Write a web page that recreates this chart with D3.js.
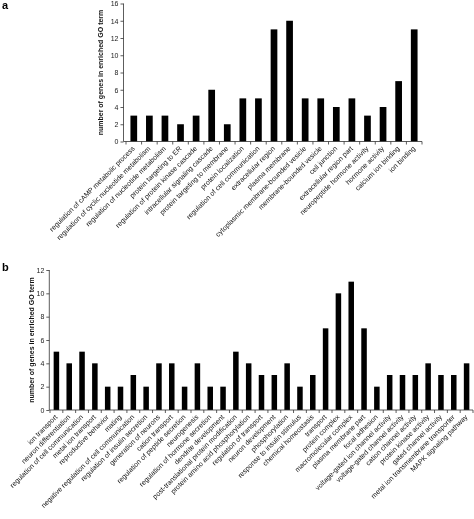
<!DOCTYPE html>
<html><head><meta charset="utf-8">
<script src="https://cdn.jsdelivr.net/npm/d3@7/dist/d3.min.js"></script>
<style>body{margin:0;background:#fff}svg{display:block;will-change:transform}text{font-family:"Liberation Sans",Arial,sans-serif}</style>
</head><body>
<script>
const catsA = ["regulation of cAMP metabolic process","regulation of cyclic nucleotide metabolism","regulation of nucleotide metabolism","protein targeting to ER","regulation of protein kinase cascade","intracellular signaling cascade","protein targeting to membrane","protein localization","regulation of cell communication","extracellular region","plasma membrane","cytoplasmic membrane-bounded vesicle","membrane-bounded vesicle","cell junction","extracellular region part","neuropeptide hormone activity","hormone activity","calcium ion binding","ion binding"];
const valsA = [3,3,3,2,3,6,2,5,5,13,14,5,5,4,5,3,4,7,13];
const ticksA = [0,2,4,6,8,10,12,14,16];

const catsB = ["ion transport","neuron differentiation","regulation of cell communication","metal ion transport","reproductive behavior","mating","negative regulation of cell communication","regulation of insulin secretion","generation of neurons","cation transport","regulation of peptide secretion","neurogenesis","regulation of hormone secretion","dendrite development","post-translational protein modification","protein amino acid phosphorylation","regulation of transport","neuron development","phosphorylation","response to insulin stimulus","chemical homeostasis","transport","protein complex","macromolecular complex","plasma membrane part","focal adhesion","voltage-gated ion channel activity","voltage-gated channel activity","cation channel activity","protein kinase activity","gated channel activity","metal ion transmembrane transporter","MAPK signaling pathway"];
const valsB = [5,4,5,4,2,2,3,2,4,4,2,4,2,2,5,4,3,3,4,2,3,7,10,11,7,2,3,3,3,4,3,3,4];
const ticksB = [0,2,4,6,8,10,12];

const yTitle = "number of genes in enriched GO term";
const W = 474, H = 519;
const svg = d3.select("body").append("svg").attr("width", W).attr("height", H);

function panel(cfg){
  const g = svg.append("g");
  const x = d3.scaleBand().domain(cfg.cats).range([cfg.x0, cfg.x1]).paddingInner(0.57).paddingOuter(0.285);
  const y = d3.scaleLinear().domain([0, cfg.ymax]).range([cfg.y0, cfg.y1]);
  g.selectAll("rect").data(cfg.vals).enter().append("rect")
    .attr("x", (d,i)=>x(cfg.cats[i]))
    .attr("width", x.bandwidth())
    .attr("y", d=>y(d)).attr("height", d=>y(0)-y(d))
    .attr("fill","#000");
  const ya = g.append("g").attr("transform",`translate(${cfg.ax},0)`)
    .call(d3.axisLeft(y).tickValues(cfg.ticks).tickSize(3).tickPadding(2));
  ya.select(".domain").attr("stroke","#333").attr("stroke-width",0.8).attr("d",`M0,${cfg.y0}V${cfg.y1}`);
  ya.selectAll(".tick line").attr("stroke","#333").attr("stroke-width",0.8);
  ya.selectAll("text").attr("font-size","7px").attr("fill","#222").style("font-family","Liberation Sans, Arial");
  g.append("line").attr("x1",cfg.ax).attr("x2",cfg.x1).attr("y1",cfg.y0).attr("y2",cfg.y0)
    .attr("stroke","#333").attr("stroke-width",0.8);
  const step = x.step();
  const bounds = d3.range(cfg.cats.length+1).map(i=>cfg.x0 + i*step);
  g.selectAll("line.bt").data(bounds).enter().append("line").attr("class","bt")
    .attr("x1",d=>d).attr("x2",d=>d).attr("y1",cfg.y0).attr("y2",cfg.y0+3)
    .attr("stroke","#333").attr("stroke-width",0.8);
  g.selectAll("text.cat").data(cfg.cats).enter().append("text").attr("class","cat")
    .attr("transform", d=>`translate(${x(d)+x.bandwidth()/2+1.5},${cfg.y0+7.5}) rotate(-45)`)
    .attr("text-anchor","end").attr("font-size","7px").attr("fill","#111")
    .text(d=>d);
  g.append("text").attr("transform",`translate(${cfg.tx},${(cfg.y0+cfg.y1)/2}) rotate(-90)`)
    .attr("text-anchor","middle").attr("font-size","7px").attr("font-weight","bold").attr("fill","#111")
    .text(yTitle);
  g.append("text").attr("x",cfg.lx).attr("y",cfg.ly).attr("font-size","11px").attr("font-weight","bold").text(cfg.letter);
}

panel({cats:catsA, vals:valsA, ticks:ticksA, ymax:16, x0:126, x1:422, ax:123.5, y0:141.5, y1:3.5, tx:102.5, letter:"a", lx:2, ly:9});
panel({cats:catsB, vals:valsB, ticks:ticksB, ymax:12, x0:50, x1:473, ax:49.3, y0:410, y1:270, tx:34, letter:"b", lx:2, ly:271});
</script>
</body></html>
